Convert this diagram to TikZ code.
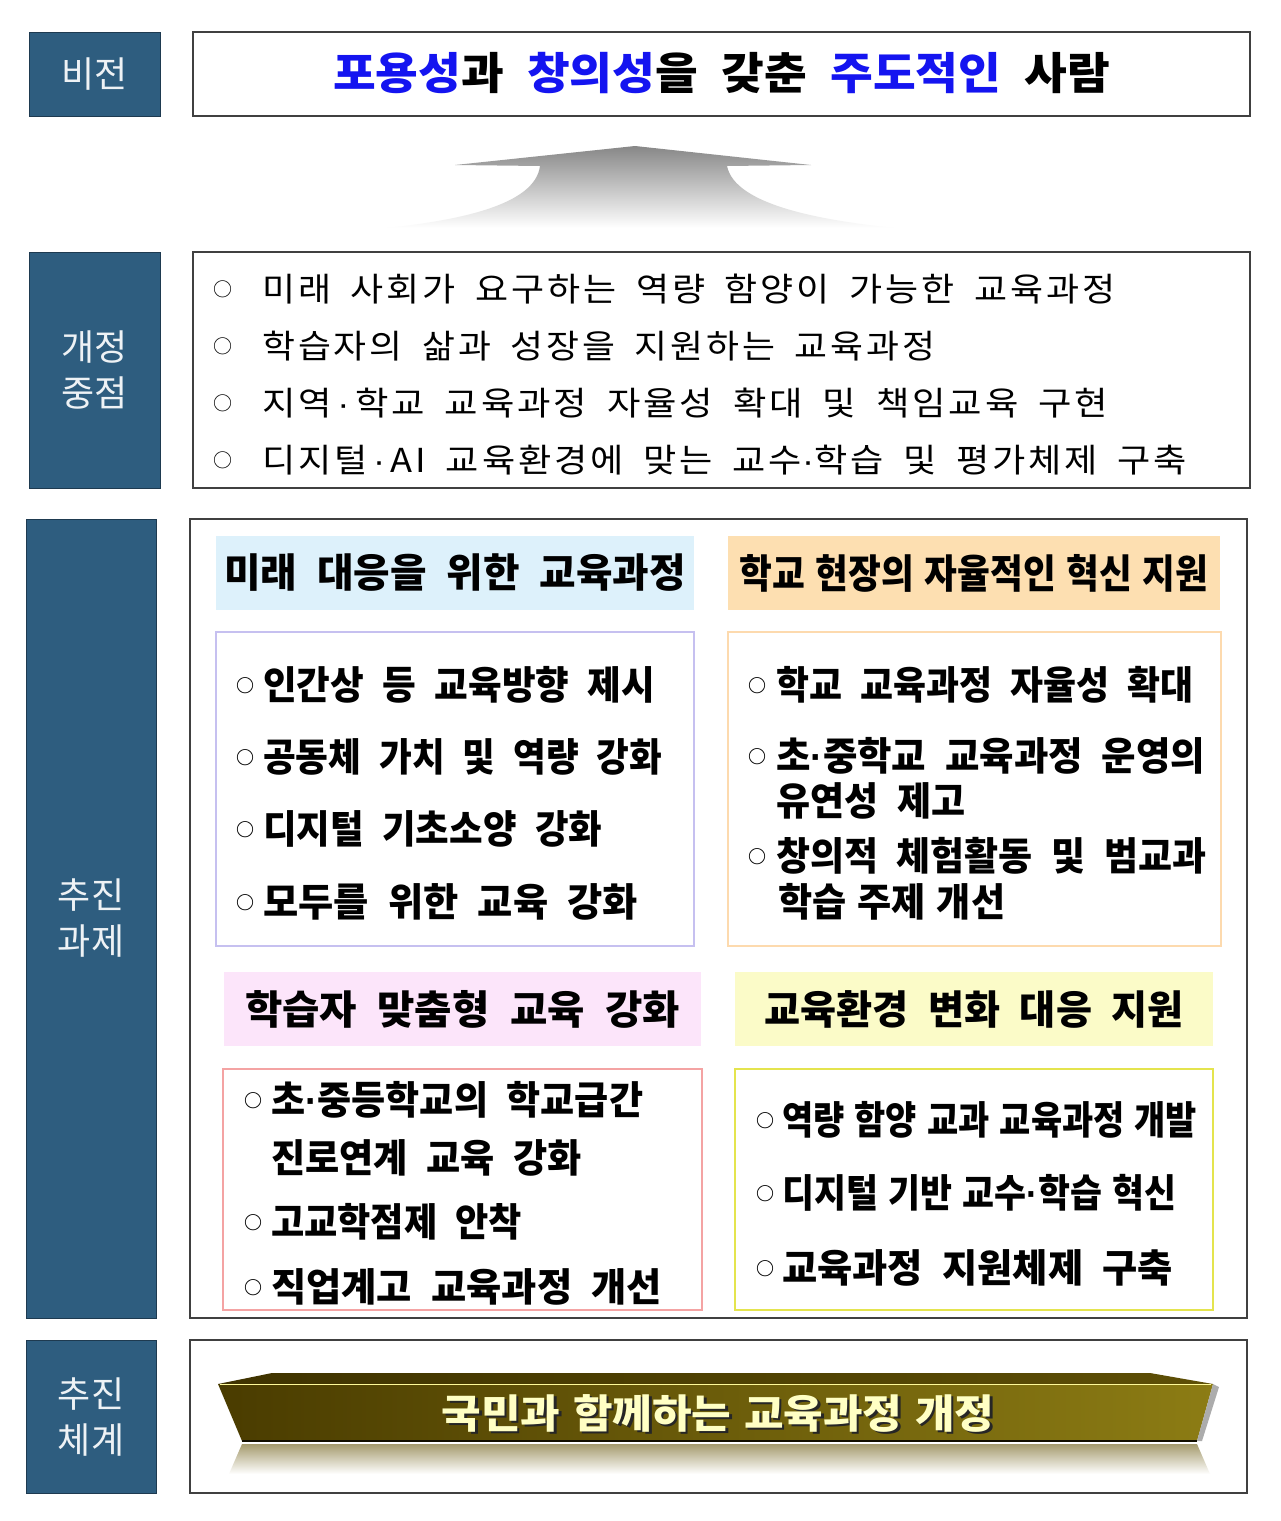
\documentclass[tikz,border=0pt]{standalone}
\usepackage{fontspec}
\usepackage{graphicx}
\setmainfont{Noto Sans CJK KR}[WordSpace=2.2]
\newfontfamily\krls{Noto Sans CJK KR}[LetterSpace=8, WordSpace=1.8]
\newfontfamily\krtight{Noto Sans CJK KR}[WordSpace=1.3]
\newfontfamily\latinf{Liberation Sans}
\newcommand\mdot{{\latinf ·}}
\newlength\fitlen
\newcommand\fitto[2]{\settowidth\fitlen{#2}\scalebox{\fpeval{(#1)/(\fitlen)}}[1]{#2}}
\definecolor{labfill}{HTML}{2E5D7F}
\definecolor{labline}{HTML}{1E3A50}
\definecolor{visblue}{HTML}{1414F0}
\definecolor{hafill}{HTML}{DDF1FB}
\definecolor{hbfill}{HTML}{FDDFB1}
\definecolor{hcfill}{HTML}{FCE5FA}
\definecolor{hdfill}{HTML}{FBFBC8}
\definecolor{baline}{HTML}{C6C0F0}
\definecolor{bbline}{HTML}{FDDAAE}
\definecolor{bcline}{HTML}{F4A3A3}
\definecolor{bdline}{HTML}{E4E44E}
\definecolor{olivedk}{HTML}{4A3C00}
\definecolor{olivelt}{HTML}{8C7C14}
\definecolor{reflcol}{HTML}{A59B6E}
\definecolor{bannertxt}{HTML}{FFFFC4}
\begin{document}
\begin{tikzpicture}[x=1pt,y=-1pt,
  lab/.style={draw=labline, line width=1pt, fill=labfill, text=white!92!labfill,
    font=\fontsize{36}{46}\selectfont, align=center, inner sep=0pt},
  panel/.style={draw=black!75, line width=1.2pt, fill=white, inner sep=0pt},
  keyitem/.style={anchor=west, inner sep=0pt, font=\krls\fontsize{33}{33}\selectfont},
  keybul/.style={inner sep=0pt, font=\fontsize{19}{19}\selectfont},
  hdr/.style={inner sep=0pt, minimum height=74pt, font=\bfseries\fontsize{40}{40}\selectfont},
  bx/.style={inner sep=0pt, line width=2.5pt, fill=white},
  itm/.style={anchor=west, inner sep=0pt, font=\bfseries\fontsize{39}{39}\selectfont},
  bul/.style={inner sep=0pt, font=\bfseries\fontsize{18}{18}\selectfont},
  btext/.style={inner sep=0pt, font=\krtight\bfseries\fontsize{40}{40}\selectfont}
]
\useasboundingbox (0,0) rectangle (1280,1521);
\fill[white] (0,0) rectangle (1280,1521);

% left labels
\node[lab, minimum width=131pt, minimum height=84pt] (lvis) at (94.5,74) {비전};
\node[lab, minimum width=131pt, minimum height=236pt] (lkey) at (94.5,370) {개정\\중점};
\node[lab, minimum width=130pt, minimum height=799pt] (ltask) at (91,918.5) {추진\\과제};
\node[lab, minimum width=130pt, minimum height=153pt] (lsys) at (91,1416.5) {추진\\체계};

% panels
\node[panel, minimum width=1057pt, minimum height=84pt] (pvis) at (721.5,74) {};
\node[panel, minimum width=1057pt, minimum height=236pt] (pkey) at (721.5,370) {};
\node[panel, minimum width=1057pt, minimum height=799pt] (ptask) at (718.5,918.5) {};
\node[panel, minimum width=1057pt, minimum height=153pt] (psys) at (718.5,1416.5) {};

% vision
\node[inner sep=0pt, font=\bfseries\fontsize{44}{44}\selectfont] (vtxt) at (721.5,73)
  {\fitto{777}{\textcolor{visblue}{포용성}과 \textcolor{visblue}{창의성}을 갖춘 \textcolor{visblue}{주도적인} 사람}};

% upward arrow
\shade[top color=black!47, middle color=black!32, bottom color=white]
  (455,165) -- (635,146) -- (811,165) -- (727,166)
  .. controls (735,205) and (820,220) .. (894,228) -- (387,228)
  .. controls (460,220) and (535,205) .. (540,166) -- cycle;

% key points
\node[keybul] (kb1) at (223,289) {○};
\node[keyitem] (k1) at (262,289) {\fitto{853}{미래 사회가 요구하는 역량 함양이 가능한 교육과정}};
\node[keybul] (kb2) at (223,346) {○};
\node[keyitem] (k2) at (262,346) {\fitto{673}{학습자의 삶과 성장을 지원하는 교육과정}};
\node[keybul] (kb3) at (223,403) {○};
\node[keyitem] (k3) at (262,403) {\fitto{846}{지역\hspace{5pt}\mdot\hspace{5pt}학교 교육과정 자율성 확대 및 책임교육 구현}};
\node[keybul] (kb4) at (223,460) {○};
\node[keyitem] (k4) at (262,460) {\fitto{925}{디지털\hspace{5pt}\mdot\hspace{5pt}AI 교육환경에 맞는 교수\mdot 학습 및 평가체제 구축}};

% headers
\node[hdr, fill=hafill, minimum width=478pt] (ha) at (455,573) {\fitto{462}{미래 대응을 위한 교육과정}};
\node[hdr, fill=hbfill, minimum width=492pt] (hb) at (974,573) {\fitto{469}{\krtight 학교 현장의 자율적인 혁신 지원}};
\node[hdr, fill=hcfill, minimum width=477pt] (hc) at (462.5,1009) {\fitto{435}{학습자 맞춤형 교육 강화}};
\node[hdr, fill=hdfill, minimum width=478pt] (hd) at (974,1009) {\fitto{420}{교육환경 변화 대응 지원}};

% boxes
\node[bx, draw=baline, minimum width=478pt, minimum height=314pt] (ba) at (455,789) {};
\node[bx, draw=bbline, minimum width=493pt, minimum height=314pt] (bb) at (974.5,789) {};
\node[bx, draw=bcline, minimum width=479pt, minimum height=241pt] (bc) at (462.5,1189.5) {};
\node[bx, draw=bdline, minimum width=478pt, minimum height=241pt] (bd) at (974,1189.5) {};

% box a items
\node[bul] (ab1) at (245,686) {○};
\node[itm] (a1) at (263,685) {\fitto{392}{인간상 등 교육방향 제시}};
\node[bul] (ab2) at (245,758) {○};
\node[itm] (a2) at (263,757) {\fitto{399}{공동체 가치 및 역량 강화}};
\node[bul] (ab3) at (245,830) {○};
\node[itm] (a3) at (263,829) {\fitto{339}{디지털 기초소양 강화}};
\node[bul] (ab4) at (245,903) {○};
\node[itm] (a4) at (263,902) {\fitto{375}{모두를 위한 교육 강화}};

% box b items
\node[bul] (bb1) at (757,686) {○};
\node[itm] (b1) at (776,685) {\fitto{417}{학교 교육과정 자율성 확대}};
\node[bul] (bb2) at (757,757) {○};
\node[itm] (b2) at (776,756) {\fitto{429}{초\mdot 중학교 교육과정 운영의}};
\node[itm] (b3) at (776,801) {\fitto{189}{유연성 제고}};
\node[bul] (bb4) at (757,857) {○};
\node[itm] (b4) at (776,856) {\fitto{430}{창의적 체험활동 및 범교과}};
\node[itm] (b5) at (778,902) {\fitto{227}{\krtight 학습 주제 개선}};

% box c items
\node[bul] (cb1) at (253,1101) {○};
\node[itm] (c1) at (271,1100) {\fitto{372}{초\mdot 중등학교의 학교급간}};
\node[itm] (c2) at (271,1158) {\fitto{311}{진로연계 교육 강화}};
\node[bul] (cb3) at (253,1223) {○};
\node[itm] (c3) at (271,1222) {\fitto{251}{고교학점제 안착}};
\node[bul] (cb4) at (253,1288) {○};
\node[itm] (c4) at (271,1287) {\fitto{391}{직업계고 교육과정 개선}};

% box d items
\node[bul] (db1) at (765,1121) {○};
\node[itm] (d1) at (782,1120) {\fitto{415}{\krtight 역량 함양 교과 교육과정 개발}};
\node[bul] (db2) at (765,1194) {○};
\node[itm] (d2) at (782,1193) {\fitto{394}{\krtight 디지털 기반 교수\mdot 학습 혁신}};
\node[bul] (db3) at (765,1269) {○};
\node[itm] (d3) at (782,1268) {\fitto{391}{교육과정 지원체제 구축}};

% banner
\shade[top color=reflcol, bottom color=white]
  (242,1444) -- (1197,1444) -- (1210,1474) -- (229,1474) -- cycle;
\shade[left color=olivedk!85!black, right color=olivedk!70!olivelt]
  (272,1373) -- (1150,1373) -- (1213,1384) -- (218,1384) -- cycle;
\shade[left color=olivedk, right color=olivelt]
  (218,1384) -- (1213,1384) -- (1197,1441) -- (242,1441) -- cycle;
\fill[gray!65] (1213,1384) -- (1219,1387) -- (1202,1441) -- (1197,1441) -- cycle;
\draw[line width=1pt, color=yellow!40!white] (220,1384) -- (1211,1384);
\draw[line width=1.5pt, color=black!75!olivedk] (242,1441) -- (1197,1441);
\node[btext, text=black!85] (bshadow) at (720.5,1415.5) {\fitto{553}{국민과 함께하는 교육과정 개정}};
\node[btext, text=bannertxt] (btxt) at (718,1413) {\fitto{553}{국민과 함께하는 교육과정 개정}};
\end{tikzpicture}
\end{document}
